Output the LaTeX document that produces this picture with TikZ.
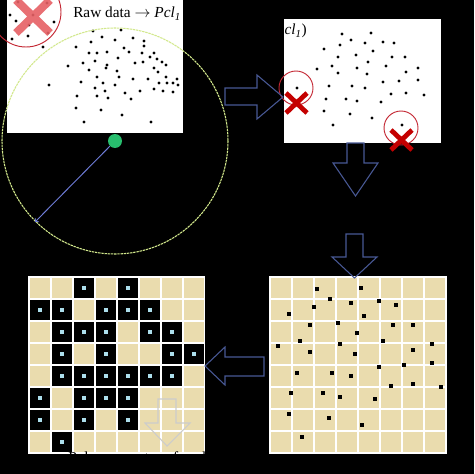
\documentclass[tikz,border=0pt]{standalone}
\usepackage{fontspec}
\setmainfont{Liberation Serif}
\usetikzlibrary{positioning}

\definecolor{sand}{RGB}{234,220,174}
\definecolor{slateblue}{RGB}{72,88,148}
\definecolor{ringred}{RGB}{196,40,52}
\definecolor{crossred}{RGB}{196,0,0}
\definecolor{softred}{RGB}{230,96,100}
\definecolor{seedgreen}{RGB}{40,190,110}
\definecolor{reachgreen}{RGB}{210,232,140}
\definecolor{rayblue}{RGB}{110,124,215}
\definecolor{cellblue}{RGB}{172,222,236}

\tikzset{
  lbl/.style={font=\fontsize{11.5}{13}\selectfont,inner sep=0pt,text=black},
  blockarrow/.style={draw=slateblue,line width=0.8pt,line join=miter},
  ring/.style={draw=ringred,line width=0.7pt},
  bigcross/.style={draw=softred,line width=6pt,opacity=0.9},
  smallcross/.style={draw=crossred,line width=3.6pt},
  seed/.style={circle,fill=seedgreen,inner sep=0pt,minimum size=10.5pt},
  reach/.style={draw=reachgreen,line width=0.8pt,dash pattern=on 1.8pt off 0.6pt},
  ray/.style={draw=rayblue,line width=0.7pt,->}
}

\begin{document}
\begin{tikzpicture}[x=0.75pt,y=-0.75pt]
  \useasboundingbox (0,0) rectangle (474,474);
  \fill[black] (0,0) rectangle (474,474);

  % RAW DATA
  \fill[white] (7,-5) rectangle (183,133);
  \foreach \px/\py in {93/31,121/30,102/37,115/40,133/38,144/41,91/42,76/47,124/48,144/46,
      89/53,97/53,107/52,129/52,142/53,154/53,118/58,150/57,157/59,162/62,95/61,83/63,
      107/65,135/63,143/62,166/65,68/66,89/70,106/68,117/71,154/68,158/72,166/77,97/77,
      119/77,133/79,148/79,177/79,81/82,103/83,115/85,159/83,167/83,173/83,178/85,49/85,
      95/88,105/91,125/93,140/91,154/89,163/91,173/92,77/96,97/96,108/98,131/99,76/108,
      101/110,122/115,84/122,151/122,
      18/2,10/15,33/15,47/3,54/22,16/21,29/25,48/33,28/36,12/39,43/47}
    \fill (\px,\py) circle (1.6);
  \draw[ring] (26,12) circle (35);
  \draw[bigcross] (16,0) -- (50,33) (50,0) -- (16,33);
  \node[lbl,anchor=base west] (rawtitle) at (73,18) {Raw data $\rightarrow$ \textit{Pcl\textsubscript{1}}};

  % SEARCH RADIUS
  \node[seed] (seedpt) at (115,141) {};
  \draw[reach] (seedpt.center) circle (113);
  \coordinate (rim) at (35,222);
  \draw[ray] (seedpt) -- (rim);

  % CLEANED CLOUD
  \fill[white] (284,19) rectangle (441,143);
  \foreach \px/\py in {342/34,371/33,351/40,365/43,383/42,394/43,340/45,324/49,373/51,
      338/57,356/55,368/62,392/57,405/57,332/66,317/69,357/68,386/66,338/73,367/74,
      406/72,418/68,329/86,352/86,365/88,383/82,399/81,418/80,326/99,346/99,357/101,
      381/102,391/94,406/93,424/95,324/111,350/114,372/118,333/125}
    \fill (\px,\py) circle (1.6);
  \fill (297,88) circle (1.6);
  \fill (402,125) circle (1.6);
  \draw[ring] (296,88) circle (17);
  \draw[ring] (401,128) circle (17);
  \draw[smallcross] (286,93) -- (307,113) (307,93) -- (286,113);
  \draw[smallcross] (391,130) -- (412,150) (412,130) -- (391,150);
  \node[lbl,anchor=base east] (cleantitle) at (307,35) {(\textit{Pcl\textsubscript{1}})};

  % OCCUPANCY GRID
  \fill[white] (269,276) rectangle (447,454);
  \foreach \r in {0,...,7}
    \foreach \c in {0,...,7}
      \fill[sand] ({270+\c*22+1},{277+\r*22+1}) rectangle +(20,20);
  \foreach \px/\py in {317/289,361/288,330/299,351/303,379/301,396/305,314/307,289/314,
      364/316,310/325,338/323,393/325,413/325,357/333,300/341,383/341,278/346,340/344,
      432/344,310/352,355/354,413/350,379/367,404/365,432/363,297/373,332/373,351/376,
      391/386,413/384,441/387,291/393,323/393,340/397,375/399,289/414,329/418,362/425,
      302/437}
    \fill ({\px-2},{\py-2}) rectangle +(4,4);

  % POLYGON CELLS
  \fill[white] (28,276) rectangle (205,454);
  \foreach \r in {0,...,7}
    \foreach \c in {0,...,7}
      \fill[sand] ({29+\c*22+1},{277+\r*22+1}) rectangle +(20,20);
  \foreach \c/\r in {2/0,4/0,0/1,1/1,3/1,4/1,5/1,1/2,2/2,3/2,5/2,6/2,1/3,3/3,6/3,7/3,
      1/4,2/4,3/4,4/4,5/4,6/4,0/5,2/5,3/5,4/5,0/6,2/6,4/6,1/7} {
    \fill[black] ({29+\c*22+1},{277+\r*22+1}) rectangle +(20,20);
    \fill[cellblue] ({29+\c*22+9.2},{277+\r*22+9.2}) rectangle +(3.6,3.6);
  }
  \draw[gray!40,line width=0.8pt,line join=miter]
    (158,399) -- (176,399) -- (176,423) -- (190,423) -- (167,446) -- (145,423) -- (158,423) -- cycle;
  \node[lbl,anchor=base west] (polytitle) at (68,462) {Polygon vector of each};

  % BLOCK ARROWS
  \draw[blockarrow] (225,88) -- (257,88) -- (257,75) -- (283,97) -- (257,119) -- (257,105) -- (225,105) -- cycle;
  \draw[blockarrow] (347,143) -- (364,143) -- (364,163) -- (378,163) -- (355.5,196) -- (333,163) -- (347,163) -- cycle;
  \draw[blockarrow] (346,234) -- (363,234) -- (363,257) -- (377,257) -- (354.5,278) -- (332,257) -- (346,257) -- cycle;
  \draw[blockarrow] (264,357) -- (225,357) -- (225,347) -- (205,366) -- (225,385) -- (225,376) -- (264,376) -- cycle;
\end{tikzpicture}
\end{document}
